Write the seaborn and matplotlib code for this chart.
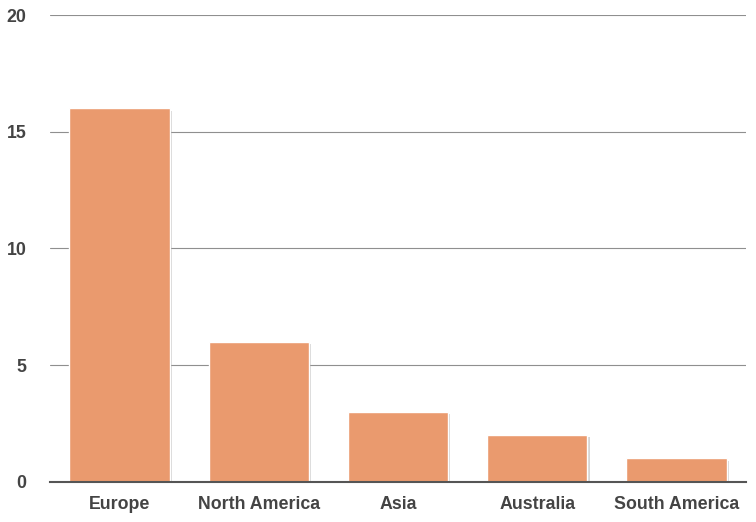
import pandas as pd
import seaborn as sns
import matplotlib.pyplot as plt
import matplotlib.patheffects as pe

sns.set_theme(style='white')
plt.rcParams['font.family'] = ['Liberation Sans', 'DejaVu Sans']

# continents and counts
continents = ["Europe", "North America", "Asia", "Australia", "South America"]
counts = [16, 6, 3, 2, 1]
y_ticks = [0, 5, 10, 15, 20]

df = pd.DataFrame({"continent": continents, "count": counts})

fig = plt.figure(figsize=(7.56, 5.22), dpi=100)
ax = fig.add_axes([0.066, 0.077, 0.921, 0.894])

ax.set_axisbelow(True)
ax.yaxis.grid(True, color='#8f8f8f', linewidth=0.8)
sns.barplot(data=df, x="continent", y="count", color='#EA9A6E',
            saturation=1, width=0.72, ax=ax, zorder=3)
for bar in ax.patches:
    bar.set_path_effects([pe.SimplePatchShadow(offset=(1.5, -1.5), shadow_rgbFace='#888888',
                                               alpha=0.35),
                          pe.Normal()])

ax.set_ylim(0, 20)
ax.set_yticks(y_ticks)
ax.set_xlabel("")
ax.set_ylabel("")
for side in ['top', 'right', 'left']:
    ax.spines[side].set_visible(False)
ax.spines['bottom'].set_color('#555555')
ax.spines['bottom'].set_linewidth(1.5)
ax.spines['bottom'].set_zorder(4)
ax.tick_params(axis='both', length=0, labelsize=12.8, labelcolor='#444444', pad=10)
ax.tick_params(axis='y', pad=17)
for lbl in ax.get_xticklabels() + ax.get_yticklabels():
    lbl.set_fontweight('bold')

fig.savefig('out.png', dpi=100)
